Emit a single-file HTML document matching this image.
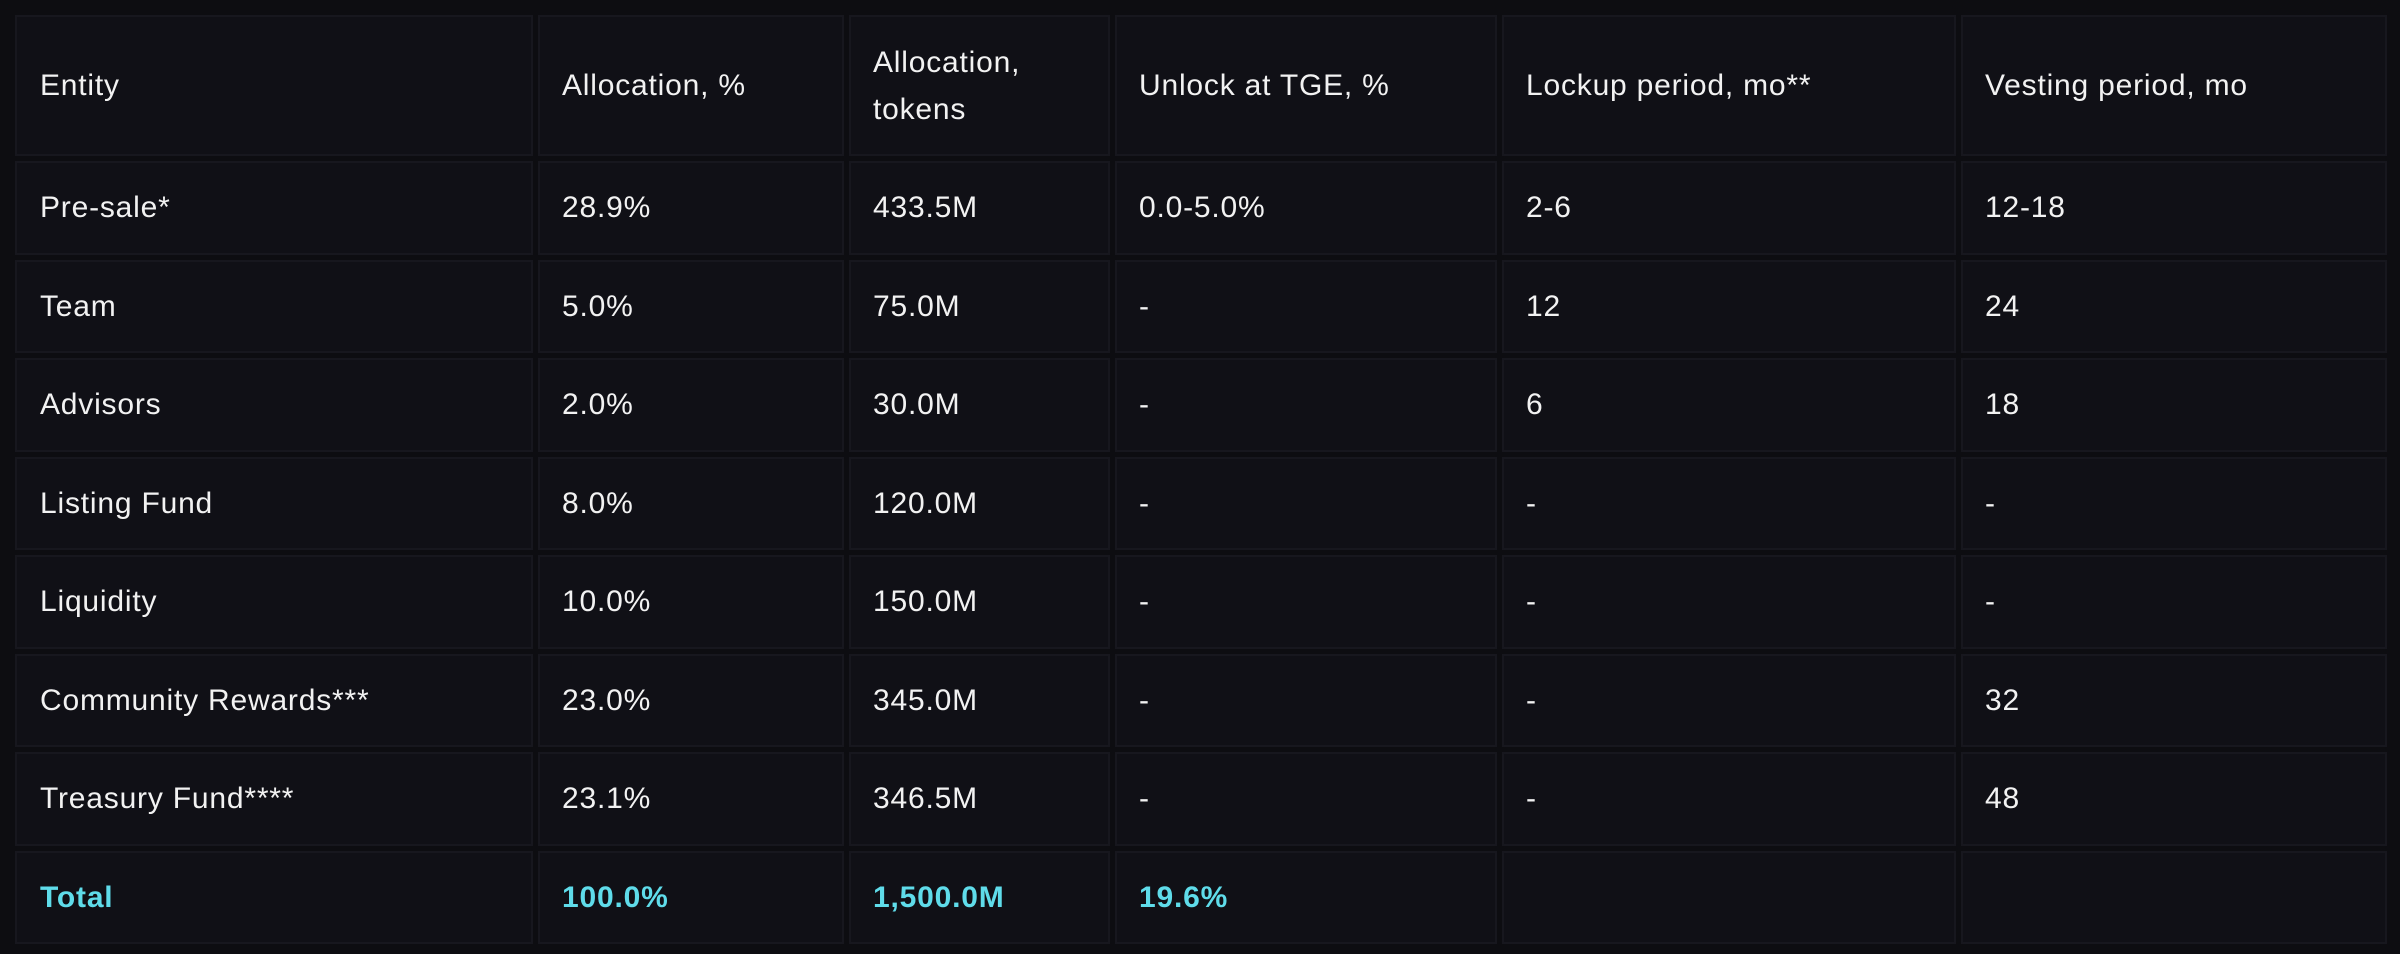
<!DOCTYPE html>
<html><head><meta charset="utf-8"><style>
html,body{margin:0;padding:0;background:#0d0d11;width:2400px;height:954px;overflow:hidden}
.g{position:absolute;left:15px;top:15px;display:grid;
grid-template-columns:518px 306px 261px 382px 454px 426px;
grid-template-rows:141px repeat(8,93.5px);gap:5px;}
.g div{background:#101016;border:2px solid #17171e;box-sizing:border-box;display:flex;align-items:center;padding-left:22px;
font-family:"Liberation Sans",sans-serif;font-size:30px;letter-spacing:0.8px;color:#f2f2f2;line-height:47px}
.g div.f{padding-left:23px}
.g div.t{color:#5fdcea;font-weight:bold}
</style></head><body>
<div class="g">
<div class="f">Entity</div><div>Allocation, %</div><div>Allocation,<br>tokens</div><div>Unlock at TGE, %</div><div>Lockup period, mo**</div><div>Vesting period, mo</div>
<div class="f">Pre-sale*</div><div>28.9%</div><div>433.5M</div><div>0.0-5.0%</div><div>2-6</div><div>12-18</div>
<div class="f">Team</div><div>5.0%</div><div>75.0M</div><div>-</div><div>12</div><div>24</div>
<div class="f">Advisors</div><div>2.0%</div><div>30.0M</div><div>-</div><div>6</div><div>18</div>
<div class="f">Listing Fund</div><div>8.0%</div><div>120.0M</div><div>-</div><div>-</div><div>-</div>
<div class="f">Liquidity</div><div>10.0%</div><div>150.0M</div><div>-</div><div>-</div><div>-</div>
<div class="f">Community Rewards***</div><div>23.0%</div><div>345.0M</div><div>-</div><div>-</div><div>32</div>
<div class="f">Treasury Fund****</div><div>23.1%</div><div>346.5M</div><div>-</div><div>-</div><div>48</div>
<div class="f t">Total</div><div class="t">100.0%</div><div class="t">1,500.0M</div><div class="t">19.6%</div><div></div><div></div>
</div>
</body></html>
